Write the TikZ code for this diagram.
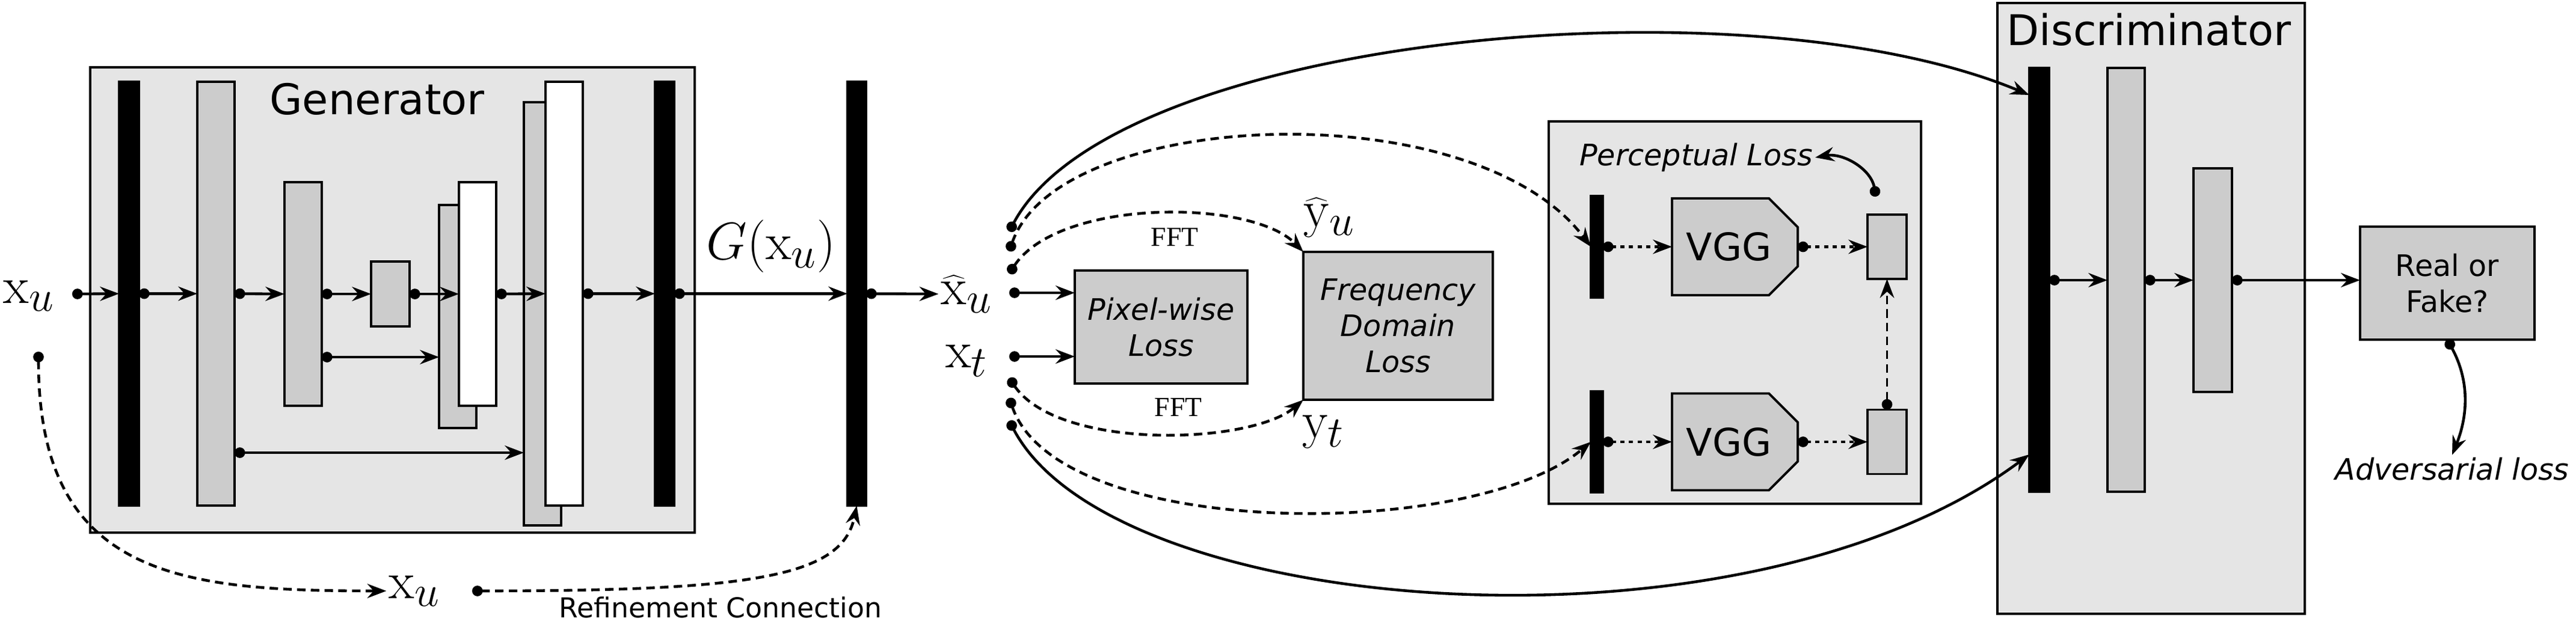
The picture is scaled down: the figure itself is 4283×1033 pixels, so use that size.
\documentclass[tikz,border=0pt]{standalone}
\usepackage[no-math]{fontspec}
\setmainfont{DejaVu Sans}
\newfontfamily\tms{Liberation Serif}
\usetikzlibrary{arrows.meta,calc}

\tikzset{
  lay/.style={draw, line width=1.1pt, inner sep=0pt, outer sep=0pt},
  blk/.style={lay, fill=black},
  gry/.style={lay, fill=black!20},
  wht/.style={lay, fill=white},
  panel/.style={draw, line width=1.1pt, fill=black!10},
  con/.style={line width=1.3pt, {Circle[length=5pt]}-{Stealth[length=9pt,inset=3pt]}},
  dcon/.style={con, dash pattern=on 4pt off 2.5pt},
  lbl/.style={inner sep=1pt},
  mth/.style={lbl, font=\fontsize{31}{33}\selectfont},
}

\begin{document}
\begin{tikzpicture}[x=0.01cm, y=-0.01cm]
\useasboundingbox (0,0) rectangle (4283,1033);

% Generator
\draw[panel] (150,112) rectangle (1155,886);
\node[lbl, font=\fontsize{20}{22}\selectfont] (gen) at (627,165) {Generator};
\node[blk, minimum width=0.33cm, minimum height=7.05cm] (b1) at (214.5,488.5) {};
\node[gry, minimum width=0.62cm, minimum height=7.05cm] (g2) at (359,488.5) {};
\node[gry, minimum width=0.62cm, minimum height=3.72cm] (g3) at (504,489) {};
\node[gry, minimum width=0.64cm, minimum height=1.08cm] (s4) at (649,489) {};
\node[gry, minimum width=0.62cm, minimum height=3.71cm] (g5) at (761,526.5) {};
\node[wht, minimum width=0.62cm, minimum height=3.72cm] (w5) at (794,489) {};
\node[gry, minimum width=0.62cm, minimum height=7.04cm] (g6) at (902,522) {};
\node[wht, minimum width=0.62cm, minimum height=7.05cm] (w6) at (938,488.5) {};
\node[blk, minimum width=0.32cm, minimum height=7.05cm] (b7) at (1105,488.5) {};
\node[blk, minimum width=0.31cm, minimum height=7.05cm] (b8) at (1424.5,488.5) {};

\node[mth] (xu) at (48,492) {$\mathrm{x}_u$};
\coordinate (xud) at (120,489);
\coordinate (xub) at (64,585);
\node[mth] (xu2) at (689,983) {$\mathrm{x}_u$};
\coordinate (xu2d) at (785,983);
\node[mth] (gx) at (1282,410) {$G(\mathrm{x}_u)$};
\node[lbl, font=\fontsize{13}{15}\selectfont] (ref) at (1198,1010) {Refinement Connection};

\draw[con] (xud) -- (b1.west);
\draw[con] (b1.east) -- (g2.west);
\draw[con] (g2.east) -- (g3.west);
\draw[con] (g3.east) -- (s4.west);
\draw[con] (s4.east) -- (w5.west);
\draw[con] (w5.east) -- (w6.west);
\draw[con] (w6.east) -- (b7.west);
\draw[con] (b7.east) -- (b8.west);
\draw[con] (g3.east |- 0,594) -- (g5.west |- 0,594);
\draw[con] (g2.east |- 0,753) -- (g6.west |- 0,753);
\draw[dcon] (xub) .. controls (64,960) and (300,983) .. (xu2.west);
\draw[dcon] (xu2d) .. controls (1250,983) and (1400,960) .. (b8.south);

% losses
\node[mth] (xh) at (1607,489) {$\widehat{\mathrm{x}}_u$};
\node[mth] (xt) at (1607,600) {$\mathrm{x}_t$};
\draw[con] (b8.east) -- (xh.west);
\node[gry, minimum width=2.87cm, minimum height=1.88cm, align=center, font=\fontsize{14}{17}\selectfont\itshape] (pix) at (1930.5,544) {Pixel-wise\\Loss};
\node[gry, minimum width=3.15cm, minimum height=2.46cm, align=center, font=\fontsize{14}{17}\selectfont\itshape] (freq) at (2324.5,542) {Frequency\\Domain\\Loss};
\node[mth] (yh) at (2210,362) {$\widehat{\mathrm{y}}_u$};
\node[mth] (yt) at (2200,718) {$\mathrm{y}_t$};
\node[lbl, font=\fontsize{13}{15}\selectfont\tms] (fft1) at (1953,395) {FFT};
\node[lbl, font=\fontsize{13}{15}\selectfont\tms] (fft2) at (1959,678) {FFT};
\foreach \n/\y in {d1/385,d2/418,d3/455,d4/487,d5/593,d6/629,d7/662,d8/700}
  \coordinate (\n) at (1678,\y);
\draw[con] (d4) -- (d4 -| pix.west);
\draw[con] (d5) -- (d5 -| pix.west);
\draw[dcon] (d3) .. controls (1760,330) and (2080,330) .. (freq.north west);
\draw[dcon] (d6) .. controls (1760,750) and (2080,740) .. (freq.south west);

% Perceptual
\draw[panel] (2575,202) rectangle (3194,838);
\node[lbl, font=\fontsize{14}{17}\selectfont\itshape] (perc) at (2820,262) {Perceptual Loss};
\foreach \i/\y in {1/410.5,2/735} {
  \node[blk, minimum width=0.2cm, minimum height=1.69cm] (pb\i) at (2655,\y) {};
  \node[lay, draw=none, minimum width=2.09cm, minimum height=1.61cm] (v\i) at (2884.5,\y) {};
  \draw[line width=1.1pt, fill=black!20] (v\i.north west) -- ($(v\i.north east)+(-48,0)$) -- ($(v\i.north east)+(0,48)$)
    -- ($(v\i.south east)+(0,-48)$) -- ($(v\i.south east)+(-48,0)$) -- (v\i.south west) -- cycle;
  \node[lbl, font=\fontsize{18}{20}\selectfont] at ($(v\i)+(-10,0)$) {VGG};
  \node[gry, minimum width=0.65cm, minimum height=1.07cm] (pc\i) at (3137.5,\y) {};
  \draw[dcon, dash pattern=on 2pt off 2pt] (pb\i.east) -- (v\i.west);
  \draw[dcon, dash pattern=on 2pt off 2pt] (v\i.east) -- (pc\i.west);
}
\draw[dcon, line width=1pt] (pc2.north) -- (pc1.south);
\coordinate (pct) at (3119,327);
\draw[con] (pct) to[out=100, in=10] (perc.east);
\draw[dcon] (d2) .. controls (1760,180) and (2450,150) .. (pb1.west);
\draw[dcon] (d7) .. controls (1760,900) and (2450,900) .. (pb2.west);

% Discriminator
\draw[panel] (3321,5) rectangle (3832,1021);
\node[lbl, font=\fontsize{20}{22}\selectfont] (dis) at (3573,49) {Discriminator};
\node[blk, minimum width=0.33cm, minimum height=7.05cm] (e1) at (3390.5,465.5) {};
\node[gry, minimum width=0.62cm, minimum height=7.05cm] (e2) at (3535,465.5) {};
\node[gry, minimum width=0.64cm, minimum height=3.72cm] (e3) at (3679,466) {};
\node[gry, minimum width=2.9cm, minimum height=1.88cm, align=center, font=\fontsize{14}{17}\selectfont] (rf) at (4069,471) {Real or\\Fake?};
\node[lbl, font=\fontsize{14}{17}\selectfont\itshape] (adv) at (4077,780) {Adversarial loss};
\draw[con] (e1.east |- 0,466) -- (e2.west |- 0,466);
\draw[con] (e2.east |- 0,466) -- (e3.west);
\draw[con] (e3.east) -- (rf.west |- e3.east);
\draw[con] (rf.south) .. controls (4110,640) and (4100,700) .. (adv.north);
\draw[con] (d1) .. controls (1850,60) and (2900,-40) .. (e1.west |- 0,158);
\draw[con] (d8) .. controls (1850,1030) and (2900,1110) .. (e1.west |- 0,756);
\end{tikzpicture}
\end{document}
